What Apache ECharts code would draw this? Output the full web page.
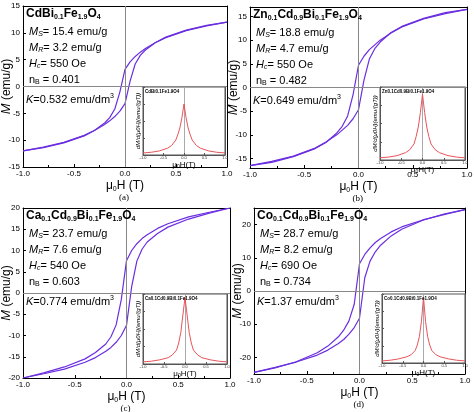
<!DOCTYPE html>
<html><head><meta charset="utf-8">
<script src="https://cdn.jsdelivr.net/npm/echarts@6/dist/echarts.min.js"></script>
<style>html,body{margin:0;padding:0;background:#fff}#c{width:474px;height:412px}</style>
</head><body><div id="c"></div>
<script>
const H = [-1,-0.8,-0.6,-0.4,-0.3,-0.2,-0.15,-0.1,-0.05,0,0.05,0.1,0.15,0.2,0.3,0.4,0.6,0.8,1];
const upA = [-12,-11.4,-10.5,-9.2,-8.2,-6.8,-5.8,-4.2,-1.0,3.2,4.6,5.6,6.4,7.1,8.2,9.1,10.4,11.3,12];
const loA = [-12,-11.3,-10.4,-9.1,-8.2,-7.1,-6.4,-5.6,-4.6,-3.2,1.0,4.2,5.8,6.8,8.2,9.2,10.5,11.4,12];
const upB = [-16.5,-15.8,-14.6,-12.9,-11.6,-9.6,-8.2,-6.0,-1.5,4.7,6.6,8.0,9.0,10.0,11.5,12.8,14.5,15.6,16.5];
const loB = [-16.5,-15.6,-14.5,-12.8,-11.5,-10.0,-9.0,-8.0,-6.6,-4.7,1.5,6.0,8.2,9.6,11.6,12.9,14.6,15.8,16.5];
const upC = [-20,-18.8,-17.4,-15.5,-14.0,-12.0,-10.3,-7.5,-1.5,7.6,10.0,11.6,12.8,13.7,15.2,16.3,17.9,19.0,20];
const loC = [-20,-19.0,-17.9,-16.3,-15.2,-13.7,-12.8,-11.6,-10.0,-7.6,1.5,7.5,10.3,12.0,14.0,15.5,17.4,18.8,20];
const upD = [-24.5,-23.2,-21.3,-18.6,-16.6,-13.8,-11.8,-9.0,-4.0,8.2,11.0,13.0,14.6,15.8,17.8,19.3,21.4,23.0,24.5];
const loD = [-24.5,-23.0,-21.4,-19.3,-17.8,-15.8,-14.6,-13.0,-11.0,-8.2,4.0,9.0,11.8,13.8,16.6,18.6,21.3,23.2,24.5];
const dA = [3,4,6,10,14,22,30,40,55,75,55,40,30,22,14,10,6,4,3];
const dB = [3,4,6,10,14,22,32,45,65,90,65,45,32,22,14,10,6,4,3];
const dC = [3,4,6,9,13,20,30,45,70,95,70,45,30,20,13,9,6,4,3];
const dD = [3,4,6,9,12,18,26,38,60,95,60,38,26,18,12,9,6,4,3];
const yTicksA = [-15,-10,-5,0,5,10,15];
const yTicksB = [-15,-10,-5,0,5,10,15];
const yTicksC = [-20,-15,-10,-5,0,5,10,15,20];
const yTicksD = [-20,-10,0,10,20];
const titles = [
 ['CdBi','0.1','Fe','1.9','O','4'],
 ['Zn','0.1','Cd','0.9','Bi','0.1','Fe','1.9','O','4'],
 ['Ca','0.1','Cd','0.9','Bi','0.1','Fe','1.9','O','4'],
 ['Co','0.1','Cd','0.9','Bi','0.1','Fe','1.9','O','4']];
const params = [
 ['15.4','3.2','550','0.401','0.532'],
 ['18.8','4.7','550','0.482','0.649'],
 ['23.7','7.6','540','0.603','0.774'],
 ['28.7','8.2','690','0.734','1.37']];
const letters = ['(a)','(b)','(c)','(d)'];

const F = 'Liberation Sans';
const panels = [
 {l:23,t:6,w:204,h:161,min:-15,max:15,ticks:yTicksA,up:upA,lo:loA,d:dA,ins:{l:143,t:87,w:82,h:68}},
 {l:250,t:7,w:217,h:161,min:-17,max:17,ticks:yTicksB,up:upB,lo:loB,d:dB,ins:{l:380,t:87,w:85,h:73}},
 {l:23,t:208,w:207,h:170,min:-20,max:20,ticks:yTicksC,up:upC,lo:loC,d:dC,ins:{l:143,t:294,w:84,h:70}},
 {l:254,t:208,w:211,h:166,min:-25,max:25,ticks:yTicksD,up:upD,lo:loD,d:dD,ins:{l:382,t:294,w:83,h:69}}];

const grid=[],xAxis=[],yAxis=[],series=[],graphic=[];
const tRich = {b:{fontFamily:F,fontSize:12,fontWeight:'bold',color:'#000'},s:{fontFamily:F,fontSize:7,fontWeight:'bold',color:'#000',padding:[7,0,0,0]}};
function titleStr(t){let s='';for(let i=0;i<t.length;i+=2){s+='{b|'+t[i]+'}';if(t[i+1])s+='{s|'+t[i+1]+'}';}return s;}
const pRich = {n:{fontFamily:F,fontSize:11,color:'#000'},i:{fontFamily:F,fontSize:11,fontStyle:'italic',color:'#000'},s:{fontFamily:F,fontSize:7,color:'#000',fontStyle:'italic',padding:[6,0,0,0]},u:{fontFamily:F,fontSize:7,color:'#000',padding:[0,0,6,0]},sn:{fontFamily:F,fontSize:7,color:'#000',padding:[6,0,0,0]}};
panels.forEach((p,k)=>{
  const gi=grid.length;
  grid.push({left:p.l,top:p.t,width:p.w,height:p.h,show:false,outerBoundsMode:'none',containLabel:false});
  xAxis.push({gridIndex:gi,type:'value',min:-1,max:1,interval:0.5,nameMoveOverlap:false,
    axisLine:{onZero:false,lineStyle:{color:'#000'}},axisTick:{inside:true,length:3,lineStyle:{color:'#000'}},
    minorTick:{show:true,splitNumber:2,length:2,lineStyle:{color:'#000'}},
    axisLabel:{fontFamily:F,fontSize:8,color:'#000',margin:3,formatter:v=>v.toFixed(1)},splitLine:{show:false},
    name:'{m|μ}{s|0}{m|H (T)}',nameLocation:'middle',nameGap:12,
    nameTextStyle:{rich:{m:{fontFamily:F,fontSize:12,color:'#000'},s:{fontFamily:F,fontSize:7,color:'#000',padding:[7,0,0,0]}}}});
  xAxis.push({gridIndex:gi,type:'value',min:-1,max:1,position:'top',axisLine:{onZero:false,lineStyle:{color:'#000'}},axisTick:{show:false},axisLabel:{show:false},splitLine:{show:false}});
  yAxis.push({gridIndex:gi,type:'value',min:p.min,max:p.max,nameMoveOverlap:false,
    axisLine:{onZero:false,lineStyle:{color:'#000'}},axisTick:{inside:true,length:3,customValues:p.ticks,lineStyle:{color:'#000'}},
    axisLabel:{fontFamily:F,fontSize:8,color:'#000',margin:3,customValues:p.ticks},splitLine:{show:false},
    name:'{i|M} {n|(emu/g)}',nameLocation:'middle',nameGap:10,
    nameTextStyle:{rich:{i:{fontFamily:F,fontSize:13,fontStyle:'italic',color:'#000'},n:{fontFamily:F,fontSize:12,color:'#000'}}}});
  yAxis.push({gridIndex:gi,type:'value',min:p.min,max:p.max,position:'right',axisLine:{onZero:false,lineStyle:{color:'#000'}},axisTick:{show:false},axisLabel:{show:false},splitLine:{show:false}});
  const xa=2*gi, ya=2*gi;
  const ls={color:'#6a2ee0',width:1.2};
  series.push({type:'line',xAxisIndex:xa,yAxisIndex:ya,data:H.map((h,i)=>[h,p.up[i]]).reverse(),symbol:'none',lineStyle:ls,
    markLine:{silent:true,symbol:'none',label:{show:false},lineStyle:{color:'#888',type:'solid',width:1},data:[{xAxis:0},{yAxis:0}]},z:3});
  series.push({type:'line',xAxisIndex:xa,yAxisIndex:ya,data:H.map((h,i)=>[h,p.lo[i]]),symbol:'none',lineStyle:ls,z:3});
  const q=p.ins, ii=grid.length;
  grid.push({left:q.l,top:q.t,width:q.w,height:q.h,show:true,backgroundColor:'#fff',borderColor:'#555',borderWidth:1,z:5,outerBoundsMode:'none',containLabel:false});
  xAxis.push({gridIndex:ii,type:'value',min:-1,max:1,interval:0.5,nameMoveOverlap:false,axisLine:{onZero:false,lineStyle:{color:'#555'}},
    axisTick:{inside:true,length:2,lineStyle:{color:'#555'}},axisLabel:{fontFamily:F,fontSize:4,color:'#333',margin:1,formatter:v=>v.toFixed(1)},splitLine:{show:false},
    name:'{m|μ}{s|0}{m|H(T)}',nameLocation:'middle',nameGap:5,z:6,
    nameTextStyle:{rich:{m:{fontFamily:F,fontSize:8,color:'#000'},s:{fontFamily:F,fontSize:5,color:'#000',padding:[4,0,0,0]}}}});
  xAxis.push({gridIndex:ii,type:'value',min:-1,max:1,position:'top',axisLine:{onZero:false,lineStyle:{color:'#555'}},axisTick:{show:false},axisLabel:{show:false},splitLine:{show:false}});
  yAxis.push({gridIndex:ii,type:'value',min:0,max:100,interval:25,nameMoveOverlap:false,axisLine:{onZero:false,lineStyle:{color:'#555'}},
    axisTick:{inside:true,length:2},axisLabel:{show:false},splitLine:{show:false},
    name:'dM/d(μ0H)(emu/(gT))',nameLocation:'middle',nameGap:2,z:6,nameTextStyle:{fontFamily:F,fontSize:6,fontStyle:'italic',color:'#000'}});
  yAxis.push({gridIndex:ii,type:'value',min:0,max:100,position:'right',axisLine:{onZero:false,lineStyle:{color:'#555'}},axisTick:{show:false},axisLabel:{show:false},splitLine:{show:false}});
  series.push({type:'line',xAxisIndex:2*ii,yAxisIndex:2*ii,data:H.map((h,i)=>[h,p.d[i]]),symbol:'none',lineStyle:{color:'#e8545a',width:1},z:7,
    markLine:{silent:true,symbol:'none',label:{show:false},lineStyle:{color:'#aaa',type:'solid',width:1},data:[{xAxis:0}]}});
  graphic.push({type:'text',left:p.l+3,top:p.t+2,z:10,style:{text:titleStr(titles[k]),rich:tRich}});
  const v=params[k], x0=p.l+6, y0=p.t+20;
  const lines=[
    '{i|M}{s|S}{n|= '+v[0]+' emu/g}',
    '{i|M}{s|R}{n|= '+v[1]+' emu/g}',
    '{i|H}{s|c}{n|= '+v[2]+' Oe}',
    '{n|n}{sn|B}{n| = '+v[3]+'}'];
  lines.forEach((s,j)=>graphic.push({type:'text',left:x0,top:y0+j*16,z:10,style:{text:s,rich:pRich}}));
  graphic.push({type:'text',left:p.l+3,top:y0+4*16+3,z:10,style:{text:'{i|K}{n|='+v[4]+' emu/dm}{u|3}',rich:pRich}});
  graphic.push({type:'text',left:q.l+2,top:q.t+2,z:10,style:{text:titles[k].join(''),fontFamily:F,fontSize:4.5,fontWeight:'bold',fill:'#000'}});
  graphic.push({type:'text',left:p.l+p.w/2-6,top:p.t+p.h+26,z:10,style:{text:letters[k],fontFamily:'Liberation Serif',fontSize:9,fill:'#000'}});
});
const chart=echarts.init(document.getElementById('c'));
chart.setOption({animation:false,grid,xAxis,yAxis,series,graphic});
</script></body></html>
